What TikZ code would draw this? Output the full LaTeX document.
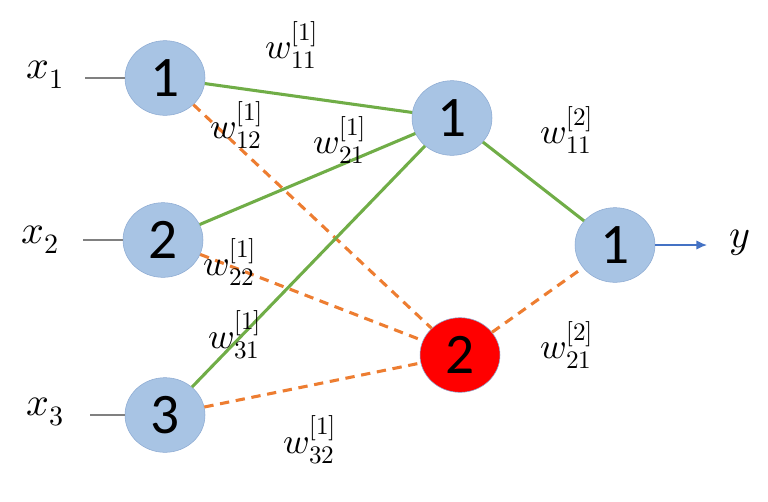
\documentclass[tikz,border=0pt]{standalone}
\usepackage{amsmath}
\usepackage{fontspec}
\usepackage{unicode-math}
\newfontfamily\digitfont{Carlito}
\usepackage{tikz}
\usetikzlibrary{shapes.geometric,arrows.meta}
\definecolor{nodeblue}{RGB}{168,196,228}
\definecolor{nodeedge}{RGB}{140,170,210}
\definecolor{wgreen}{RGB}{112,173,71}
\definecolor{worange}{RGB}{237,125,49}
\definecolor{arrblue}{RGB}{68,114,196}
\tikzset{
  neuron/.style={ellipse,draw=nodeedge,fill=nodeblue,minimum width=60pt,minimum height=56pt,inner sep=0pt,font=\digitfont\fontsize{43}{43}\selectfont},
  plusw/.style={wgreen,line width=2.3pt},
  minusw/.style={worange,line width=2.3pt,dash pattern=on 7pt off 5pt},
  wlab/.style={font=\fontsize{27}{27}\selectfont,inner sep=0.75pt},
  xlab/.style={font=\fontsize{30}{30}\selectfont,inner sep=0.75pt}
}
\begin{document}
\begin{tikzpicture}[x=0.75pt,y=0.75pt,yscale=-1,xscale=1]
\useasboundingbox (0,0) rectangle (768,501);

% neurons
\node [neuron] (i1) at (165,78) {1};
\node [neuron] (i2) at (163,240) {2};
\node [neuron] (i3) at (165,415) {3};
\node [neuron] (h1) at (452,118) {1};
\node [neuron,fill=red,draw=nodeedge] (h2) at (460,355) {2};
\node [neuron] (o1) at (615,245) {1};

% inputs and output
\node [xlab] (x1) at (45,75) {$x_1$};
\node [xlab] (x2) at (40,240) {$x_2$};
\node [xlab] (x3) at (45,412) {$x_3$};
\node [xlab] (y) at (740,243) {$y$};
\coordinate (c1) at (85,78);
\coordinate (c2) at (83,240);
\coordinate (c3) at (90,415);
\coordinate (yend) at (707,245);
\draw [gray,line width=2pt] (c1) -- (i1.west);
\draw [gray,line width=2pt] (c2) -- (i2.west);
\draw [gray,line width=2pt] (c3) -- (i3.west);
\draw [arrblue,line width=1pt,-{Latex[length=8pt,width=7pt]}] (o1.east) -- (yend);

% connections
\draw [plusw] (i1) -- (h1);
\draw [minusw] (i1) -- (h2);
\draw [plusw] (i2) -- (h1);
\draw [minusw] (i2) -- (h2);
\draw [plusw] (i3) -- (h1);
\draw [minusw] (i3) -- (h2);
\draw [plusw] (h1) -- (o1);
\draw [minusw] (h2) -- (o1);

% weights
\node [wlab] (w11) at (292,45) {$w_{11}^{[1]}$};
\node [wlab] (w12) at (237,125) {$w_{12}^{[1]}$};
\node [wlab] (w21) at (340,140) {$w_{21}^{[1]}$};
\node [wlab] (w22) at (230,262) {$w_{22}^{[1]}$};
\node [wlab] (w31) at (235,335) {$w_{31}^{[1]}$};
\node [wlab] (w32) at (310,440) {$w_{32}^{[1]}$};
\node [wlab] (v11) at (567,130) {$w_{11}^{[2]}$};
\node [wlab] (v21) at (567,345) {$w_{21}^{[2]}$};

\end{tikzpicture}
\end{document}
